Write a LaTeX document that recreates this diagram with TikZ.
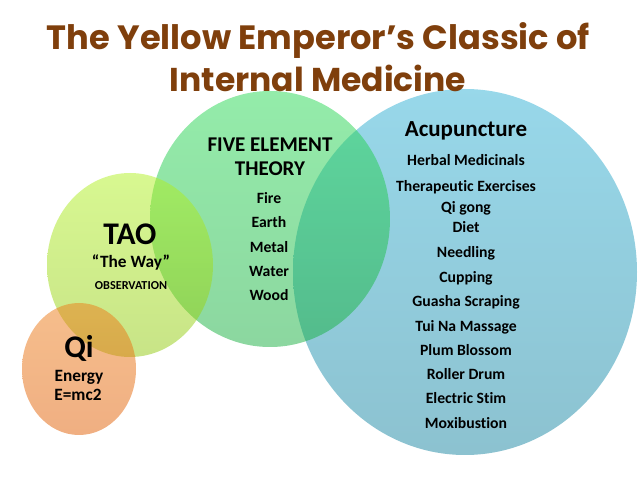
\documentclass[tikz,border=0pt]{standalone}
\usepackage{fontspec}
\setmainfont{Carlito}[Ligatures=NoCommon]
\newfontfamily\titlefont{Poppins}
\definecolor{titlebrown}{RGB}{127,63,12}
\definecolor{blueT}{RGB}{49,177,213}
\definecolor{blueB}{RGB}{25,133,161}
\definecolor{greenT}{RGB}{41,217,85}
\definecolor{greenB}{RGB}{25,175,65}
\definecolor{taoT}{RGB}{177,241,35}
\definecolor{taoB}{RGB}{145,201,15}
\definecolor{qiT}{RGB}{237,125,25}
\definecolor{qiB}{RGB}{225,95,5}
\begin{document}
\begin{tikzpicture}[x=1pt,y=-1pt,
  blob/.style={fill opacity=0.5,draw=none},
  ttl/.style={anchor=base,font=\titlefont\bfseries\fontsize{33}{33}\selectfont,text=titlebrown,inner sep=0pt},
  item/.style={anchor=base,font=\bfseries\fontsize{15.7}{15.7}\selectfont,inner sep=0pt},
  head/.style={anchor=base,font=\bfseries\fontsize{21}{21}\selectfont,inner sep=0pt},
  big/.style={anchor=base,font=\bfseries\fontsize{31.5}{31.5}\selectfont,inner sep=0pt},
  sub/.style={anchor=base,font=\bfseries\fontsize{17.3}{17.3}\selectfont,inner sep=0pt}]
\useasboundingbox (0,0) rectangle (638,478);
% circles
\shade[blob,top color=blueT,bottom color=blueB] (465,272) ellipse [x radius=172,y radius=183];
\shade[blob,top color=greenT,bottom color=greenB] (270,219) ellipse [x radius=120,y radius=128];
\shade[blob,top color=taoT,bottom color=taoB] (130,265) ellipse [x radius=83,y radius=92];
\shade[blob,top color=qiT,bottom color=qiB] (79,369) ellipse [x radius=57,y radius=66];
% title
\node[ttl] (t1) at (318.5,50) {\resizebox{543pt}{!}{The Yellow Emperor’s Classic of}};
\node[ttl] (t2) at (318,92) {Internal Medicine};
% five element
\node[head] (fe1) at (270,152) {FIVE ELEMENT};
\node[head] (fe2) at (270,176) {THEORY};
\node[item] (fire) at (269,204) {Fire};
\node[item] (earth) at (269,228) {Earth};
\node[item] (metal) at (269,253) {Metal};
\node[item] (water) at (269,277) {Water};
\node[item] (wood) at (269,301) {Wood};
% TAO
\node[big] (tao) at (130,245) {TAO};
\node[sub] (way) at (131,268) {“The Way”};
\node[anchor=base,inner sep=0pt,font=\bfseries\fontsize{12.2}{12.2}\selectfont] (obs) at (131,290) {OBSERVATION};
% Qi
\node[big] (qi) at (79,358) {Qi};
\node[sub] (energy) at (79,382) {Energy};
\node[sub] (emc) at (78,401) {E=mc2};
% acupuncture
\node[anchor=base,inner sep=0pt,font=\bfseries\fontsize{23}{23}\selectfont] (acu) at (466,137) {Acupuncture};
\node[item] (a1) at (466,166) {Herbal Medicinals};
\node[item] (a2) at (466,192) {Therapeutic Exercises};
\node[item] (a3) at (466,213) {Qi gong};
\node[item] (a4) at (466,233) {Diet};
\node[item] (a5) at (466,258) {Needling};
\node[item] (a6) at (466,283) {Cupping};
\node[item] (a7) at (466,307) {Guasha Scraping};
\node[item] (a8) at (466,332) {Tui Na Massage};
\node[item] (a9) at (466,356) {Plum Blossom};
\node[item] (a10) at (466,380) {Roller Drum};
\node[item] (a11) at (466,404) {Electric Stim};
\node[item] (a12) at (466,429) {Moxibustion};
\end{tikzpicture}
\end{document}
